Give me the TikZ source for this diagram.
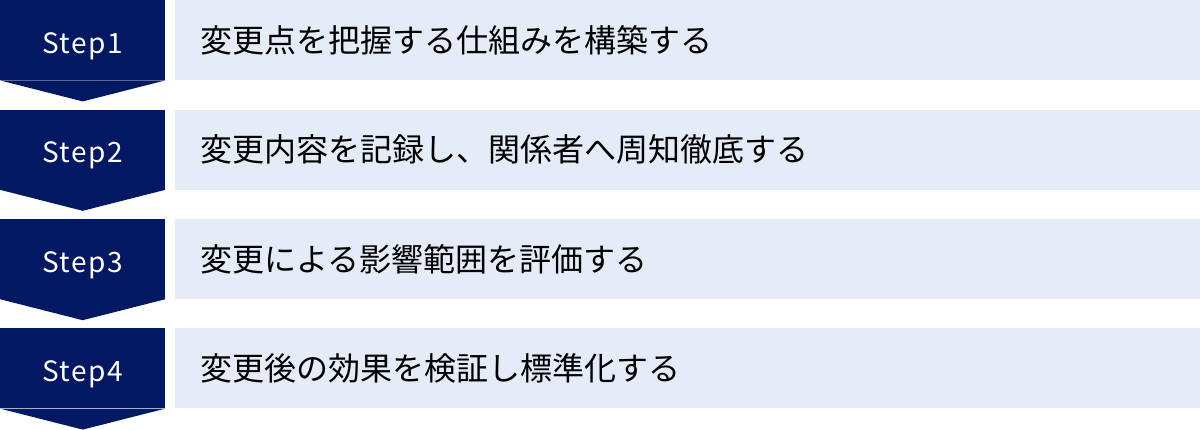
\documentclass[tikz,border=0pt]{standalone}
\usepackage{fontspec}
\setmainfont{Noto Sans CJK JP}
\newfontfamily\stepfont[LetterSpace=6]{Noto Sans CJK JP}
\usetikzlibrary{positioning}

\definecolor{stepnavy}{RGB}{3,24,98}
\definecolor{rowblue}{RGB}{230,235,248}

\begin{document}
\begin{tikzpicture}[
    x=1pt, y=1pt,
    node distance=29pt and 9pt,
    stepbox/.style={rectangle, fill=stepnavy, text=white, minimum width=165pt, minimum height=80pt, inner sep=0pt, text height=26pt, text depth=0pt, font=\stepfont\fontsize{28}{32}\selectfont},
    rowbox/.style={rectangle, fill=rowblue, text=black, minimum width=1026pt, minimum height=80pt, inner xsep=26pt, inner ysep=0pt, text width=974pt, align=left, font=\fontsize{32}{36}\selectfont},
    tip/.style={fill=stepnavy}
]
\useasboundingbox (0,0) rectangle (1200,-429);

% Steps on the left
\node[stepbox, anchor=north west] (step1) at (0,0) {Step1};
\node[stepbox, below=of step1] (step2) {Step2};
\node[stepbox, below=of step2] (step3) {Step3};
\node[stepbox, below=of step3] (step4) {Step4};

% Chevron tips
\fill[tip] (step1.south west) -- ([yshift=-21pt]step1.south) -- (step1.south east) -- cycle;
\fill[tip] (step2.south west) -- ([yshift=-21pt]step2.south) -- (step2.south east) -- cycle;
\fill[tip] (step3.south west) -- ([yshift=-21pt]step3.south) -- (step3.south east) -- cycle;
\fill[tip] (step4.south west) -- ([yshift=-21pt]step4.south) -- (step4.south east) -- cycle;

% Descriptions
\node[rowbox, right=of step1] (desc1) {変更点を把握する仕組みを構築する};
\node[rowbox, right=of step2] (desc2) {変更内容を記録し、関係者へ周知徹底する};
\node[rowbox, right=of step3] (desc3) {変更による影響範囲を評価する};
\node[rowbox, right=of step4] (desc4) {変更後の効果を検証し標準化する};

\end{tikzpicture}
\end{document}
